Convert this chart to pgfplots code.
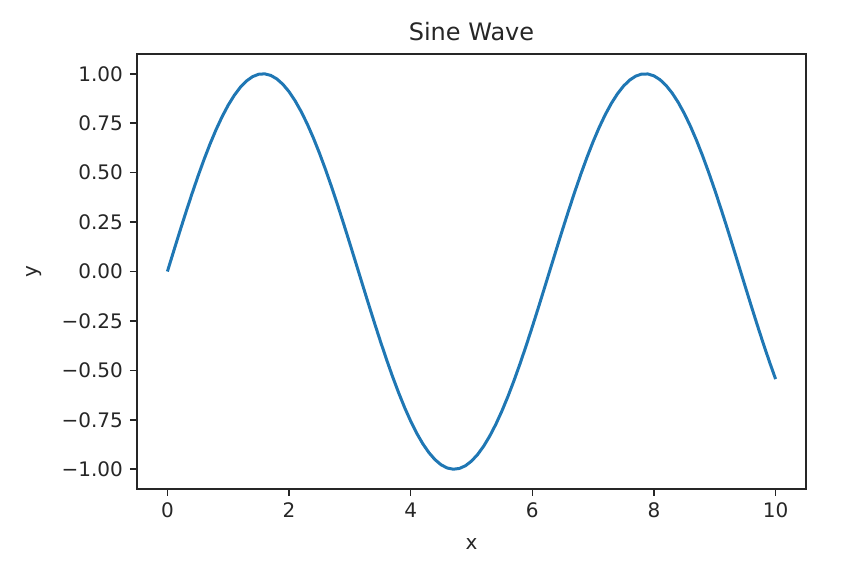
\documentclass[border=0pt]{standalone}
\usepackage{fontspec}
\setmainfont{DejaVu Sans}
\usepackage{pgfplots}
\pgfplotsset{compat=1.18}
\definecolor{mplblue}{HTML}{1F77B4}
\definecolor{mpltext}{HTML}{262626}
\begin{document}
\begin{tikzpicture}
\begin{axis}[
  scale only axis,
  width=334.5pt, height=217.5pt,
  xmin=-0.5, xmax=10.5, ymin=-1.1, ymax=1.1,
  xtick={0,2,4,6,8,10},
  xticklabels={0,2,4,6,8,10},
  ytick={-1,-0.75,-0.5,-0.25,0,0.25,0.5,0.75,1},
  yticklabels={−1.00,−0.75,−0.50,−0.25,0.00,0.25,0.50,0.75,1.00},
  tick align=outside, tick pos=left,
  major tick length=3.5pt,
  tick style={mpltext, line width=0.8pt},
  axis line style={mpltext, line width=0.8pt},
  ticklabel style={font=\fontsize{10}{12}\selectfont, text=mpltext},
  title={Sine Wave},
  title style={font=\fontsize{12}{14}\selectfont, text=mpltext, yshift=-3pt},
  xlabel={x}, ylabel={y},
  label style={font=\fontsize{10}{12}\selectfont, text=mpltext},
  xlabel style={yshift=-3.5pt},
  ylabel style={yshift=3pt},
]
\addplot[mplblue, line width=1.5pt, no marks] coordinates {
(0.0,0) (0.1,0.0998) (0.2,0.1987) (0.3,0.2955) (0.4,0.3894) (0.5,0.4794)
(0.6,0.5646) (0.7,0.6442) (0.8,0.7174) (0.9,0.7833) (1.0,0.8415)
(1.1,0.8912) (1.2,0.9320) (1.3,0.9636) (1.4,0.9854) (1.5,0.9975)
(1.6,0.9996) (1.7,0.9917) (1.8,0.9738) (1.9,0.9463) (2.0,0.9093)
(2.1,0.8632) (2.2,0.8085) (2.3,0.7457) (2.4,0.6755) (2.5,0.5985)
(2.6,0.5155) (2.7,0.4274) (2.8,0.3350) (2.9,0.2392) (3.0,0.1411)
(3.1,0.0416) (3.2,-0.0584) (3.3,-0.1577) (3.4,-0.2555) (3.5,-0.3508)
(3.6,-0.4425) (3.7,-0.5298) (3.8,-0.6119) (3.9,-0.6878) (4.0,-0.7568)
(4.1,-0.8183) (4.2,-0.8716) (4.3,-0.9162) (4.4,-0.9516) (4.5,-0.9775)
(4.6,-0.9937) (4.7,-0.9999) (4.8,-0.9962) (4.9,-0.9825) (5.0,-0.9589)
(5.1,-0.9258) (5.2,-0.8835) (5.3,-0.8323) (5.4,-0.7728) (5.5,-0.7055)
(5.6,-0.6313) (5.7,-0.5507) (5.8,-0.4646) (5.9,-0.3739) (6.0,-0.2794)
(6.1,-0.1822) (6.2,-0.0831) (6.3,0.0168) (6.4,0.1165) (6.5,0.2151)
(6.6,0.3115) (6.7,0.4048) (6.8,0.4941) (6.9,0.5784) (7.0,0.6570)
(7.1,0.7290) (7.2,0.7937) (7.3,0.8504) (7.4,0.8987) (7.5,0.9380)
(7.6,0.9679) (7.7,0.9882) (7.8,0.9985) (7.9,0.9989) (8.0,0.9894)
(8.1,0.9699) (8.2,0.9407) (8.3,0.9022) (8.4,0.8546) (8.5,0.7985)
(8.6,0.7344) (8.7,0.6630) (8.8,0.5849) (8.9,0.5010) (9.0,0.4121)
(9.1,0.3191) (9.2,0.2229) (9.3,0.1245) (9.4,0.0248) (9.5,-0.0752)
(9.6,-0.1743) (9.7,-0.2718) (9.8,-0.3665) (9.9,-0.4575) (10.0,-0.5440)
};
\end{axis}
\path[use as bounding box] ([shift={(-68.5pt,-44pt)}]current axis.south west) rectangle ([shift={(30.5pt,27pt)}]current axis.north east);
\end{tikzpicture}
\end{document}
